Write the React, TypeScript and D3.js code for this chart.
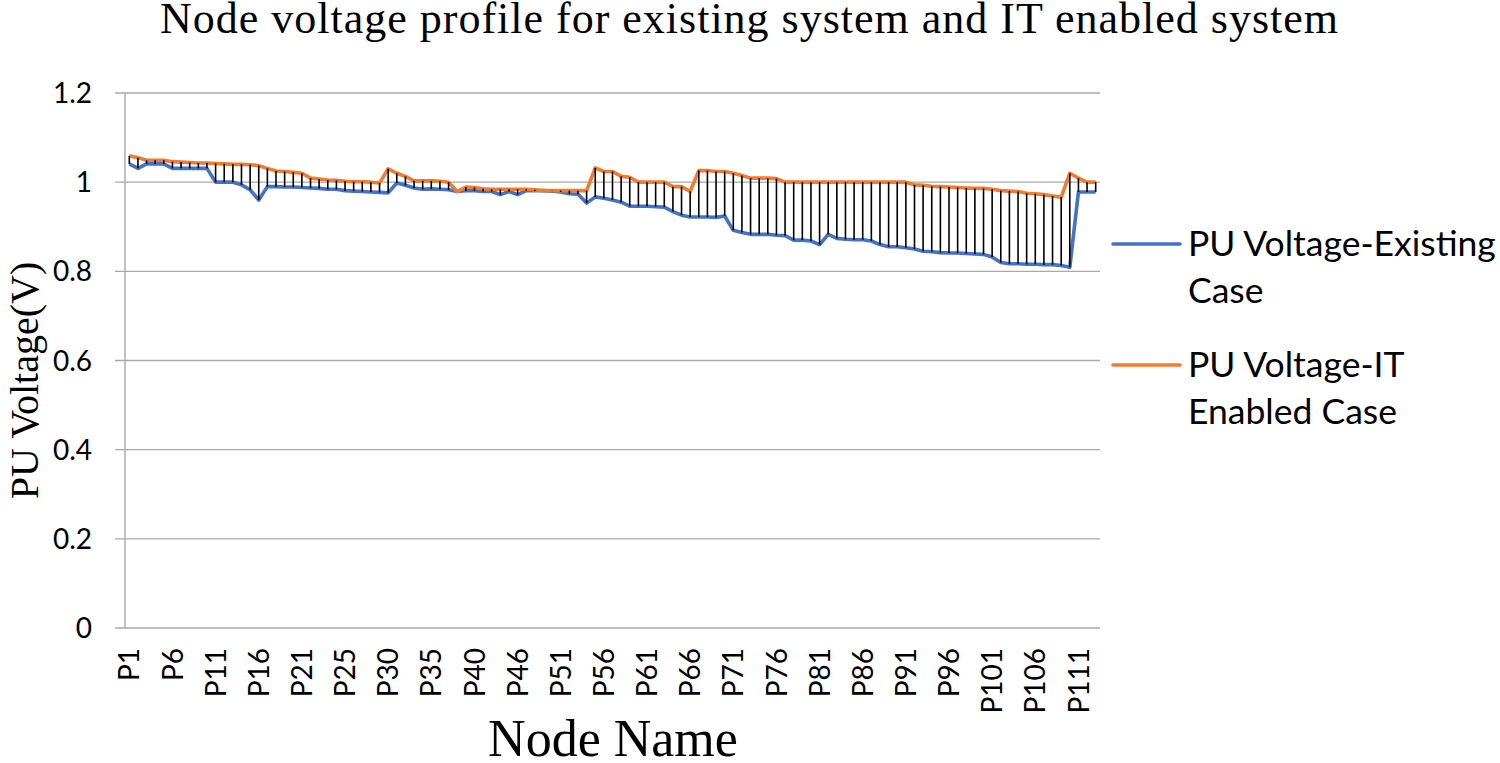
import React from "react";
import * as d3 from "d3";

const nodeNames: string[] = [
  "P1","P2","P3","P4","P5","P6","P7","P8","P9","P10",
  "P11","P12","P13","P14","P15","P16","P17","P18","P19","P20",
  "P21","P22","P23","P24","P24A","P25","P26","P27","P28","P29",
  "P30","P31","P32","P33","P34","P35","P36","P37","P38","P39",
  "P40","P41","P42","P43","P44","P46","P47","P48","P49","P50",
  "P51","P52","P53","P54","P55","P56","P57","P58","P59","P60",
  "P61","P62","P63","P64","P65","P66","P67","P68","P69","P70",
  "P71","P72","P73","P74","P75","P76","P77","P78","P79","P80",
  "P81","P82","P83","P84","P85","P86","P87","P88","P89","P90",
  "P91","P92","P93","P94","P95","P96","P97","P98","P99","P100",
  "P101","P102","P103","P104","P105","P106","P107","P108","P109","P110",
  "P111","P112","P113",
];

const existingCase: number[] = [
  1.041,1.031,1.041,1.041,1.041,1.031,1.031,1.031,1.031,1.031,
  1.0,1.0,1.0,0.994,0.983,0.96,0.99,0.99,0.989,0.989,
  0.988,0.987,0.986,0.984,0.984,0.981,0.98,0.979,0.978,0.977,
  0.976,0.998,0.993,0.987,0.984,0.985,0.984,0.983,0.979,0.981,
  0.981,0.979,0.979,0.972,0.979,0.972,0.981,0.981,0.981,0.98,
  0.978,0.974,0.973,0.953,0.967,0.964,0.96,0.955,0.946,0.946,
  0.946,0.945,0.944,0.934,0.926,0.922,0.922,0.922,0.921,0.924,
  0.892,0.887,0.883,0.883,0.883,0.881,0.88,0.87,0.87,0.868,
  0.86,0.883,0.874,0.872,0.871,0.871,0.868,0.86,0.855,0.855,
  0.853,0.85,0.845,0.844,0.842,0.841,0.841,0.84,0.839,0.838,
  0.832,0.82,0.817,0.817,0.816,0.816,0.815,0.815,0.813,0.809,
  0.978,0.978,0.978,
];

const itEnabledCase: number[] = [
  1.059,1.055,1.049,1.049,1.049,1.046,1.045,1.044,1.043,1.043,
  1.042,1.041,1.04,1.04,1.039,1.037,1.031,1.025,1.024,1.022,
  1.02,1.009,1.007,1.005,1.004,1.002,1.001,1.001,1.0,0.998,
  1.03,1.02,1.013,1.003,1.003,1.003,1.002,1.0,0.979,0.989,
  0.988,0.985,0.984,0.984,0.984,0.984,0.984,0.983,0.981,0.981,
  0.981,0.981,0.981,0.981,1.032,1.024,1.024,1.013,1.011,1.0,
  1.0,1.0,1.0,0.99,0.99,0.979,1.026,1.026,1.024,1.024,
  1.02,1.015,1.009,1.009,1.009,1.008,1.0,1.0,1.0,1.0,
  1.0,1.0,1.0,1.0,1.0,1.0,1.0,1.0,1.0,1.0,
  1.0,0.994,0.993,0.991,0.99,0.989,0.988,0.987,0.986,0.986,
  0.984,0.981,0.98,0.979,0.975,0.974,0.972,0.969,0.966,1.02,
  1.009,1.0,1.0,
];

const yTicks: number[] = [0, 0.2, 0.4, 0.6, 0.8, 1, 1.2];
const seriesNames: string[][] = [
  ["PU Voltage-Existing", "Case"],
  ["PU Voltage-IT", "Enabled Case"],
];
const seriesColors: string[] = ["#4472C4", "#ED7D31"];

const W = 1500;
const H = 763;
const plotLeft = 125;
const plotRight = 1100;
const plotTop = 93;
const plotBottom = 628;

export default function App() {
  const x = d3.scaleBand<string>().domain(nodeNames).range([plotLeft, plotRight]).padding(0);
  const y = d3.scaleLinear().domain([0, 1.2]).range([plotBottom, plotTop]);
  const cx = (name: string) => (x(name) as number) + x.bandwidth() / 2;

  const lineGen = d3
    .line<number>()
    .x((_, i) => cx(nodeNames[i]))
    .y((v) => y(v));

  const sans = "Lato, 'Open Sans', sans-serif";
  const serif = "'Liberation Serif', 'DejaVu Serif', serif";
  const gridColor = "#a9a9a9";

  return (
    <svg
      width={W}
      height={H}
      style={{ position: "absolute", left: 0, top: 0, background: "#fff" }}
    >
      <rect x={0} y={0} width={W} height={H} fill="#fff" />
      <text
        x={160}
        y={33}
        textLength={1178}
        lengthAdjust="spacing"
        fontFamily={serif}
        fontSize={44}
        fill="#000"
      >
        Node voltage profile for existing system and IT enabled system
      </text>

      {yTicks.map((t) => (
        <g key={t}>
          <line
            x1={plotLeft - 10}
            x2={plotRight}
            y1={y(t)}
            y2={y(t)}
            stroke={gridColor}
            strokeWidth={1.4}
          />
          <text
            x={92}
            y={y(t)}
            dy="0.36em"
            textAnchor="end"
            fontFamily={sans}
            fontSize={28}
            fill="#000"
          >
            {String(t)}
          </text>
        </g>
      ))}
      <line x1={plotLeft} x2={plotLeft} y1={plotTop} y2={plotBottom} stroke={gridColor} strokeWidth={1.4} />

      {nodeNames.map((n, i) =>
        i % 5 === 0 ? (
          <text
            key={n}
            transform={`translate(${cx(n)},${plotBottom + 20}) rotate(-90)`}
            dy="0.36em"
            textAnchor="end"
            fontFamily={sans}
            fontSize={28}
            fill="#000"
          >
            {n}
          </text>
        ) : null
      )}

      <path d={lineGen(existingCase) || ""} fill="none" stroke={seriesColors[0]} strokeWidth={3.6} strokeLinejoin="round" />
      <path d={lineGen(itEnabledCase) || ""} fill="none" stroke={seriesColors[1]} strokeWidth={3.6} strokeLinejoin="round" />

      {nodeNames.map((n, i) => (
        <line
          key={"d" + n}
          x1={cx(n)}
          x2={cx(n)}
          y1={y(existingCase[i])}
          y2={y(itEnabledCase[i])}
          stroke="#000"
          strokeWidth={1.6}
        />
      ))}

      <text
        transform={`translate(38,${(plotTop + plotBottom) / 2 + 20}) rotate(-90)`}
        textAnchor="middle"
        fontFamily={serif}
        fontSize={40}
        fill="#000"
      >
        PU Voltage(V)
      </text>
      <text x={613} y={756} textAnchor="middle" fontFamily={serif} fontSize={52} fill="#000">
        Node Name
      </text>

      {seriesNames.map((lines, s) => {
        const ly = s === 0 ? 244 : 365;
        return (
          <g key={s}>
            <line x1={1113} x2={1180} y1={ly} y2={ly} stroke={seriesColors[s]} strokeWidth={3.6} strokeLinecap="round" />
            {lines.map((t, k) => (
              <text
                key={k}
                x={1188}
                y={ly + 12 + k * 47}
                fontFamily={sans}
                fontSize={35.5}
                fill="#000"
              >
                {t}
              </text>
            ))}
          </g>
        );
      })}
    </svg>
  );
}
